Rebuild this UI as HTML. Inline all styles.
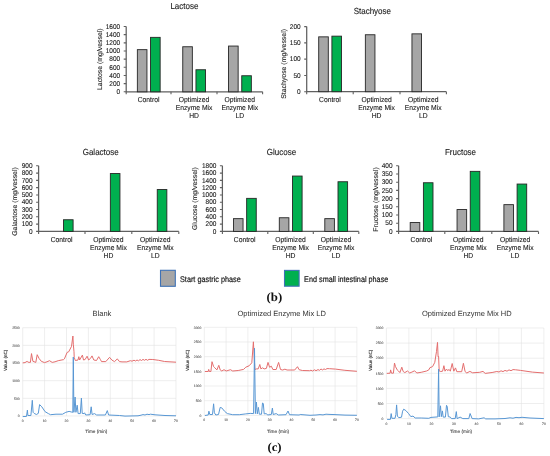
<!DOCTYPE html>
<html><head><meta charset="utf-8"><title>Figure</title>
<style>
html,body{margin:0;padding:0;background:#fff;}
body{width:550px;height:456px;overflow:hidden;}
svg{display:block;text-rendering:geometricPrecision;}
</style></head>
<body>
<svg width="550" height="456" viewBox="0 0 550 456">
<rect width="550" height="456" fill="#fff"/>
<g font-family='"Liberation Sans", Arial, sans-serif' fill="#1a1a1a" stroke="#1a1a1a" stroke-width="0.1">
<path d="M126.2 26.5V91.8H262.6" fill="none" stroke="#606060" stroke-width="1.25"/>
<text transform="translate(120.2 94) scale(1 1.07)" text-anchor="end" font-size="6.5">0</text>
<text transform="translate(120.2 85.84) scale(1 1.07)" text-anchor="end" font-size="6.5">200</text>
<text transform="translate(120.2 77.67) scale(1 1.07)" text-anchor="end" font-size="6.5">400</text>
<text transform="translate(120.2 69.51) scale(1 1.07)" text-anchor="end" font-size="6.5">600</text>
<text transform="translate(120.2 61.35) scale(1 1.07)" text-anchor="end" font-size="6.5">800</text>
<text transform="translate(120.2 53.19) scale(1 1.07)" text-anchor="end" font-size="6.5">1000</text>
<text transform="translate(120.2 45.03) scale(1 1.07)" text-anchor="end" font-size="6.5">1200</text>
<text transform="translate(120.2 36.86) scale(1 1.07)" text-anchor="end" font-size="6.5">1400</text>
<text transform="translate(120.2 28.7) scale(1 1.07)" text-anchor="end" font-size="6.5">1600</text>
<path d="M123.7 91.8H126.2M123.7 83.64H126.2M123.7 75.47H126.2M123.7 67.31H126.2M123.7 59.15H126.2M123.7 50.99H126.2M123.7 42.83H126.2M123.7 34.66H126.2M123.7 26.5H126.2M126.2 91.8V94.3M171 91.8V94.3M217 91.8V94.3M262.6 91.8V94.3" stroke="#606060" stroke-width="1.1"/>
<rect x="137.35" y="49.65" width="9.6" height="42.15" fill="#a6a6a6" stroke="#262626" stroke-width="0.9"/>
<rect x="150.55" y="37.35" width="9.6" height="54.45" fill="#00b04f" stroke="#262626" stroke-width="0.9"/>
<rect x="182.75" y="46.75" width="9.6" height="45.05" fill="#a6a6a6" stroke="#262626" stroke-width="0.9"/>
<rect x="195.95" y="69.75" width="9.6" height="22.05" fill="#00b04f" stroke="#262626" stroke-width="0.9"/>
<rect x="228.55" y="46.05" width="9.6" height="45.75" fill="#a6a6a6" stroke="#262626" stroke-width="0.9"/>
<rect x="241.75" y="75.75" width="9.6" height="16.05" fill="#00b04f" stroke="#262626" stroke-width="0.9"/>
<text transform="translate(148.6 102.4) scale(1 1.07)" text-anchor="middle" font-size="6.75">Control</text>
<text transform="translate(194 102.4) scale(1 1.07)" text-anchor="middle" font-size="6.75">Optimized</text>
<text transform="translate(194 110.15) scale(1 1.07)" text-anchor="middle" font-size="6.75">Enzyme Mix</text>
<text transform="translate(194 117.9) scale(1 1.07)" text-anchor="middle" font-size="6.75">HD</text>
<text transform="translate(239.8 102.4) scale(1 1.07)" text-anchor="middle" font-size="6.75">Optimized</text>
<text transform="translate(239.8 110.15) scale(1 1.07)" text-anchor="middle" font-size="6.75">Enzyme Mix</text>
<text transform="translate(239.8 117.9) scale(1 1.07)" text-anchor="middle" font-size="6.75">LD</text>
<text transform="translate(184.4 9.4) scale(1 1.1)" text-anchor="middle" font-size="8">Lactose</text>
<text transform="translate(101.9 59.2) rotate(-90)" text-anchor="middle" font-size="6.9">Lactose (mg/vessel)</text>
<path d="M306.7 26.6V91.7H446.4" fill="none" stroke="#606060" stroke-width="1.25"/>
<text transform="translate(300.7 93.9) scale(1 1.07)" text-anchor="end" font-size="6.5">0</text>
<text transform="translate(300.7 77.63) scale(1 1.07)" text-anchor="end" font-size="6.5">50</text>
<text transform="translate(300.7 61.35) scale(1 1.07)" text-anchor="end" font-size="6.5">100</text>
<text transform="translate(300.7 45.08) scale(1 1.07)" text-anchor="end" font-size="6.5">150</text>
<text transform="translate(300.7 28.8) scale(1 1.07)" text-anchor="end" font-size="6.5">200</text>
<path d="M304.2 91.7H306.7M304.2 75.43H306.7M304.2 59.15H306.7M304.2 42.88H306.7M304.2 26.6H306.7M306.7 91.7V94.2M353.2 91.7V94.2M400 91.7V94.2M446.4 91.7V94.2" stroke="#606060" stroke-width="1.1"/>
<rect x="318.7" y="36.85" width="9.6" height="54.85" fill="#a6a6a6" stroke="#262626" stroke-width="0.9"/>
<rect x="331.9" y="36.15" width="9.6" height="55.55" fill="#00b04f" stroke="#262626" stroke-width="0.9"/>
<rect x="365.35" y="34.75" width="9.6" height="56.95" fill="#a6a6a6" stroke="#262626" stroke-width="0.9"/>
<rect x="411.95" y="33.85" width="9.6" height="57.85" fill="#a6a6a6" stroke="#262626" stroke-width="0.9"/>
<text transform="translate(329.95 102.3) scale(1 1.07)" text-anchor="middle" font-size="6.75">Control</text>
<text transform="translate(376.6 102.3) scale(1 1.07)" text-anchor="middle" font-size="6.75">Optimized</text>
<text transform="translate(376.6 110.05) scale(1 1.07)" text-anchor="middle" font-size="6.75">Enzyme Mix</text>
<text transform="translate(376.6 117.8) scale(1 1.07)" text-anchor="middle" font-size="6.75">HD</text>
<text transform="translate(423.2 102.3) scale(1 1.07)" text-anchor="middle" font-size="6.75">Optimized</text>
<text transform="translate(423.2 110.05) scale(1 1.07)" text-anchor="middle" font-size="6.75">Enzyme Mix</text>
<text transform="translate(423.2 117.8) scale(1 1.07)" text-anchor="middle" font-size="6.75">LD</text>
<text transform="translate(372.3 13.5) scale(1 1.1)" text-anchor="middle" font-size="8">Stachyose</text>
<text transform="translate(285.6 63.9) rotate(-90)" text-anchor="middle" font-size="6.9">Stachyose (mg/vessel)</text>
<path d="M38.6 165.8V231.4H178.8" fill="none" stroke="#606060" stroke-width="1.25"/>
<text transform="translate(32.6 233.6) scale(1 1.07)" text-anchor="end" font-size="6.5">0</text>
<text transform="translate(32.6 226.31) scale(1 1.07)" text-anchor="end" font-size="6.5">100</text>
<text transform="translate(32.6 219.02) scale(1 1.07)" text-anchor="end" font-size="6.5">200</text>
<text transform="translate(32.6 211.73) scale(1 1.07)" text-anchor="end" font-size="6.5">300</text>
<text transform="translate(32.6 204.44) scale(1 1.07)" text-anchor="end" font-size="6.5">400</text>
<text transform="translate(32.6 197.16) scale(1 1.07)" text-anchor="end" font-size="6.5">500</text>
<text transform="translate(32.6 189.87) scale(1 1.07)" text-anchor="end" font-size="6.5">600</text>
<text transform="translate(32.6 182.58) scale(1 1.07)" text-anchor="end" font-size="6.5">700</text>
<text transform="translate(32.6 175.29) scale(1 1.07)" text-anchor="end" font-size="6.5">800</text>
<text transform="translate(32.6 168) scale(1 1.07)" text-anchor="end" font-size="6.5">900</text>
<path d="M36.1 231.4H38.6M36.1 224.11H38.6M36.1 216.82H38.6M36.1 209.53H38.6M36.1 202.24H38.6M36.1 194.96H38.6M36.1 187.67H38.6M36.1 180.38H38.6M36.1 173.09H38.6M36.1 165.8H38.6M38.6 231.4V233.9M85 231.4V233.9M131.8 231.4V233.9M178.8 231.4V233.9" stroke="#606060" stroke-width="1.1"/>
<rect x="63.5" y="219.75" width="9.6" height="11.65" fill="#00b04f" stroke="#262626" stroke-width="0.9"/>
<rect x="110.35" y="173.55" width="9.6" height="57.85" fill="#00b04f" stroke="#262626" stroke-width="0.9"/>
<rect x="157.25" y="189.55" width="9.6" height="41.85" fill="#00b04f" stroke="#262626" stroke-width="0.9"/>
<text transform="translate(61.55 242) scale(1 1.07)" text-anchor="middle" font-size="6.75">Control</text>
<text transform="translate(108.4 242) scale(1 1.07)" text-anchor="middle" font-size="6.75">Optimized</text>
<text transform="translate(108.4 249.75) scale(1 1.07)" text-anchor="middle" font-size="6.75">Enzyme Mix</text>
<text transform="translate(108.4 257.5) scale(1 1.07)" text-anchor="middle" font-size="6.75">HD</text>
<text transform="translate(155.3 242) scale(1 1.07)" text-anchor="middle" font-size="6.75">Optimized</text>
<text transform="translate(155.3 249.75) scale(1 1.07)" text-anchor="middle" font-size="6.75">Enzyme Mix</text>
<text transform="translate(155.3 257.5) scale(1 1.07)" text-anchor="middle" font-size="6.75">LD</text>
<text transform="translate(100.7 154.7) scale(1 1.1)" text-anchor="middle" font-size="8">Galactose</text>
<text transform="translate(17.2 201.5) rotate(-90)" text-anchor="middle" font-size="6.9">Galactose (mg/vessel)</text>
<path d="M222.4 165.8V231.4H358.8" fill="none" stroke="#606060" stroke-width="1.25"/>
<text transform="translate(216.4 233.6) scale(1 1.07)" text-anchor="end" font-size="6.5">0</text>
<text transform="translate(216.4 226.31) scale(1 1.07)" text-anchor="end" font-size="6.5">200</text>
<text transform="translate(216.4 219.02) scale(1 1.07)" text-anchor="end" font-size="6.5">400</text>
<text transform="translate(216.4 211.73) scale(1 1.07)" text-anchor="end" font-size="6.5">600</text>
<text transform="translate(216.4 204.44) scale(1 1.07)" text-anchor="end" font-size="6.5">800</text>
<text transform="translate(216.4 197.16) scale(1 1.07)" text-anchor="end" font-size="6.5">1000</text>
<text transform="translate(216.4 189.87) scale(1 1.07)" text-anchor="end" font-size="6.5">1200</text>
<text transform="translate(216.4 182.58) scale(1 1.07)" text-anchor="end" font-size="6.5">1400</text>
<text transform="translate(216.4 175.29) scale(1 1.07)" text-anchor="end" font-size="6.5">1600</text>
<text transform="translate(216.4 168) scale(1 1.07)" text-anchor="end" font-size="6.5">1800</text>
<path d="M219.9 231.4H222.4M219.9 224.11H222.4M219.9 216.82H222.4M219.9 209.53H222.4M219.9 202.24H222.4M219.9 194.96H222.4M219.9 187.67H222.4M219.9 180.38H222.4M219.9 173.09H222.4M219.9 165.8H222.4M222.4 231.4V233.9M267.8 231.4V233.9M313.3 231.4V233.9M358.8 231.4V233.9" stroke="#606060" stroke-width="1.1"/>
<rect x="233.45" y="218.65" width="9.6" height="12.75" fill="#a6a6a6" stroke="#262626" stroke-width="0.9"/>
<rect x="246.65" y="198.35" width="9.6" height="33.05" fill="#00b04f" stroke="#262626" stroke-width="0.9"/>
<rect x="279.3" y="217.75" width="9.6" height="13.65" fill="#a6a6a6" stroke="#262626" stroke-width="0.9"/>
<rect x="292.5" y="176.05" width="9.6" height="55.35" fill="#00b04f" stroke="#262626" stroke-width="0.9"/>
<rect x="324.8" y="218.65" width="9.6" height="12.75" fill="#a6a6a6" stroke="#262626" stroke-width="0.9"/>
<rect x="338" y="181.75" width="9.6" height="49.65" fill="#00b04f" stroke="#262626" stroke-width="0.9"/>
<text transform="translate(244.7 242) scale(1 1.07)" text-anchor="middle" font-size="6.75">Control</text>
<text transform="translate(290.55 242) scale(1 1.07)" text-anchor="middle" font-size="6.75">Optimized</text>
<text transform="translate(290.55 249.75) scale(1 1.07)" text-anchor="middle" font-size="6.75">Enzyme Mix</text>
<text transform="translate(290.55 257.5) scale(1 1.07)" text-anchor="middle" font-size="6.75">HD</text>
<text transform="translate(336.05 242) scale(1 1.07)" text-anchor="middle" font-size="6.75">Optimized</text>
<text transform="translate(336.05 249.75) scale(1 1.07)" text-anchor="middle" font-size="6.75">Enzyme Mix</text>
<text transform="translate(336.05 257.5) scale(1 1.07)" text-anchor="middle" font-size="6.75">LD</text>
<text transform="translate(281.5 154.7) scale(1 1.1)" text-anchor="middle" font-size="8">Glucose</text>
<text transform="translate(197.2 198.6) rotate(-90)" text-anchor="middle" font-size="6.9">Glucose (mg/vessel)</text>
<path d="M398.6 165.8V231.4H538.5" fill="none" stroke="#606060" stroke-width="1.25"/>
<text transform="translate(392.6 233.6) scale(1 1.07)" text-anchor="end" font-size="6.5">0</text>
<text transform="translate(392.6 225.4) scale(1 1.07)" text-anchor="end" font-size="6.5">50</text>
<text transform="translate(392.6 217.2) scale(1 1.07)" text-anchor="end" font-size="6.5">100</text>
<text transform="translate(392.6 209) scale(1 1.07)" text-anchor="end" font-size="6.5">150</text>
<text transform="translate(392.6 200.8) scale(1 1.07)" text-anchor="end" font-size="6.5">200</text>
<text transform="translate(392.6 192.6) scale(1 1.07)" text-anchor="end" font-size="6.5">250</text>
<text transform="translate(392.6 184.4) scale(1 1.07)" text-anchor="end" font-size="6.5">300</text>
<text transform="translate(392.6 176.2) scale(1 1.07)" text-anchor="end" font-size="6.5">350</text>
<text transform="translate(392.6 168) scale(1 1.07)" text-anchor="end" font-size="6.5">400</text>
<path d="M396.1 231.4H398.6M396.1 223.2H398.6M396.1 215H398.6M396.1 206.8H398.6M396.1 198.6H398.6M396.1 190.4H398.6M396.1 182.2H398.6M396.1 174H398.6M396.1 165.8H398.6M398.6 231.4V233.9M444.8 231.4V233.9M491.8 231.4V233.9M538.5 231.4V233.9" stroke="#606060" stroke-width="1.1"/>
<rect x="410.2" y="222.55" width="9.6" height="8.85" fill="#a6a6a6" stroke="#262626" stroke-width="0.9"/>
<rect x="423.4" y="182.75" width="9.6" height="48.65" fill="#00b04f" stroke="#262626" stroke-width="0.9"/>
<rect x="457.05" y="209.55" width="9.6" height="21.85" fill="#a6a6a6" stroke="#262626" stroke-width="0.9"/>
<rect x="470.25" y="171.35" width="9.6" height="60.05" fill="#00b04f" stroke="#262626" stroke-width="0.9"/>
<rect x="503.9" y="204.65" width="9.6" height="26.75" fill="#a6a6a6" stroke="#262626" stroke-width="0.9"/>
<rect x="517.1" y="184.05" width="9.6" height="47.35" fill="#00b04f" stroke="#262626" stroke-width="0.9"/>
<text transform="translate(421.45 242) scale(1 1.07)" text-anchor="middle" font-size="6.75">Control</text>
<text transform="translate(468.3 242) scale(1 1.07)" text-anchor="middle" font-size="6.75">Optimized</text>
<text transform="translate(468.3 249.75) scale(1 1.07)" text-anchor="middle" font-size="6.75">Enzyme Mix</text>
<text transform="translate(468.3 257.5) scale(1 1.07)" text-anchor="middle" font-size="6.75">HD</text>
<text transform="translate(515.15 242) scale(1 1.07)" text-anchor="middle" font-size="6.75">Optimized</text>
<text transform="translate(515.15 249.75) scale(1 1.07)" text-anchor="middle" font-size="6.75">Enzyme Mix</text>
<text transform="translate(515.15 257.5) scale(1 1.07)" text-anchor="middle" font-size="6.75">LD</text>
<text transform="translate(460.5 154.7) scale(1 1.1)" text-anchor="middle" font-size="8">Fructose</text>
<text transform="translate(377.7 199.5) rotate(-90)" text-anchor="middle" font-size="6.9">Fructose (mg/vessel)</text>
</g>
<rect x="160.5" y="270.3" width="14.8" height="16" fill="#a6a6a6" stroke="#3f72b6" stroke-width="1.1"/>
<rect x="284.5" y="270.4" width="14.6" height="15.8" fill="#00b04f" stroke="#3f72b6" stroke-width="1.1"/>
<text x="180" y="281.7" font-family='"Liberation Sans", Arial, sans-serif' font-size="8.2" fill="#1a1a1a" stroke="#1a1a1a" stroke-width="0.2" textLength="60.8" lengthAdjust="spacingAndGlyphs">Start gastric phase</text>
<text x="304.1" y="281.7" font-family='"Liberation Sans", Arial, sans-serif' font-size="8.2" fill="#1a1a1a" stroke="#1a1a1a" stroke-width="0.2" textLength="84.2" lengthAdjust="spacingAndGlyphs">End small intestinal phase</text>
<text transform="translate(274.4 301.4) scale(1.06 1)" text-anchor="middle" font-family='"Liberation Serif", "Times New Roman", serif' font-weight="bold" font-size="12.1" fill="#111">(b)</text>
<text transform="translate(274.5 450.5) scale(1.06 1)" text-anchor="middle" font-family='"Liberation Serif", "Times New Roman", serif' font-weight="bold" font-size="12.1" fill="#111">(c)</text>
<path d="M22.7 327.7V416M44.6 327.7V416M66.5 327.7V416M88.4 327.7V416M110.3 327.7V416M132.2 327.7V416M154.1 327.7V416M176 327.7V416M22.7 416H176M22.7 398.34H176M22.7 380.68H176M22.7 363.02H176M22.7 345.36H176M22.7 327.7H176" stroke="#e3e3e3" stroke-width="0.6" fill="none"/>
<g font-family='"Liberation Sans", Arial, sans-serif' font-size="3.4" fill="#6a6a6a" stroke="#6a6a6a" stroke-width="0.12">
<text x="19.7" y="417.2" text-anchor="end">0</text>
<text x="19.7" y="399.54" text-anchor="end">500</text>
<text x="19.7" y="381.88" text-anchor="end">1000</text>
<text x="19.7" y="364.22" text-anchor="end">1500</text>
<text x="19.7" y="346.56" text-anchor="end">2000</text>
<text x="19.7" y="328.9" text-anchor="end">2500</text>
<text x="22.7" y="422" text-anchor="middle">0</text>
<text x="44.6" y="422" text-anchor="middle">10</text>
<text x="66.5" y="422" text-anchor="middle">20</text>
<text x="88.4" y="422" text-anchor="middle">30</text>
<text x="110.3" y="422" text-anchor="middle">40</text>
<text x="132.2" y="422" text-anchor="middle">50</text>
<text x="154.1" y="422" text-anchor="middle">60</text>
<text x="176" y="422" text-anchor="middle">70</text>
</g>
<text x="96.3" y="433" text-anchor="middle" font-family='"Liberation Sans", Arial, sans-serif' font-size="4.7" fill="#444" stroke="#444" stroke-width="0.08">Time (min)</text>
<text transform="translate(7.2 360.3) rotate(-90)" text-anchor="middle" font-family='"Liberation Sans", Arial, sans-serif' font-size="4.5" fill="#333" stroke="#333" stroke-width="0.14">Value (nC)</text>
<text x="102" y="316" text-anchor="middle" font-family='"Liberation Sans", Arial, sans-serif' font-size="7.5" fill="#333">Blank</text>
<polyline points="22.7,362.9 25,362.6 27.1,361.3 28,362.2 30.4,362.4 31.5,353.6 32.9,361.3 35.8,362.4 37.2,354.7 39.1,358.5 41.3,361.3 44.5,362.6 47,361.8 49.5,360.7 52.2,362.4 55,361.8 58.2,360.7 63.6,359.6 64.4,358.9 67.1,352.4 68.7,351.8 71.5,346.4 72.9,336 73.3,344.2 74,351.8 74.2,357.3 75.3,360.5 78,360 78.8,356.7 79.6,360 82.4,355.1 83.5,360 85.1,359.5 87.1,356.2 88.6,360 90.5,358.4 92,355.9 93.8,360 96.5,360.5 98.7,356.7 100.4,359.5 101.5,361.6 105.8,361.6 109.6,357.3 111.8,360 114.5,361.6 117.3,358.9 119.5,361.6 122,361.9 126.8,361.9 130.4,360.7 132,361.2 134,360.2 135.5,361 137,360 138.5,360.8 140,359.6 141.5,360.5 143,359.4 144.5,360.3 146,359.3 147.5,360.3 149,359.4 152.8,359.5 158.7,360.3 164.6,361.5 176,362.2" fill="none" stroke="#e46e6e" stroke-width="1" stroke-linejoin="round"/>
<polyline points="22.7,416.6 26.5,416.4 27.4,410.1 27.9,415.5 30.9,415.5 32.3,400.3 33.1,412.3 34.2,413.4 36.4,414.5 38.3,413.4 39.6,404.6 41.8,406.8 45.1,411.7 48.4,413.6 50.5,414.7 56,414.2 62.5,414.2 65.8,412.3 69.1,411.4 71.8,412.1 72.8,412.3 73.3,357 73.9,412.3 75.1,397 75.9,412.3 77.2,405.2 78.1,413.6 80.3,413.6 81.4,398.1 82.2,413.4 84.1,413.6 84.6,412.8 85.7,415 90.1,414.7 91.2,406.8 92.1,414.5 94.5,413.6 96.6,415 105.4,415 107.3,410.6 108.6,415 119.5,415.5 125,416.1 138,415.8 141,415.2 143,414.6 145,415 147,414.2 149,414.6 150.5,414.2 155,414.8 165,415.5 176,415.8" fill="none" stroke="#5897d4" stroke-width="1" stroke-linejoin="round"/>
<path d="M204.3 327.3V415.4M226.1 327.3V415.4M247.9 327.3V415.4M269.7 327.3V415.4M291.5 327.3V415.4M313.3 327.3V415.4M335.1 327.3V415.4M356.9 327.3V415.4M204.3 415.4H356.9M204.3 400.72H356.9M204.3 386.03H356.9M204.3 371.35H356.9M204.3 356.67H356.9M204.3 341.98H356.9M204.3 327.3H356.9" stroke="#e3e3e3" stroke-width="0.6" fill="none"/>
<g font-family='"Liberation Sans", Arial, sans-serif' font-size="3.4" fill="#6a6a6a" stroke="#6a6a6a" stroke-width="0.12">
<text x="201.3" y="416.6" text-anchor="end">0</text>
<text x="201.3" y="401.92" text-anchor="end">500</text>
<text x="201.3" y="387.23" text-anchor="end">1000</text>
<text x="201.3" y="372.55" text-anchor="end">1500</text>
<text x="201.3" y="357.87" text-anchor="end">2000</text>
<text x="201.3" y="343.18" text-anchor="end">2500</text>
<text x="201.3" y="328.5" text-anchor="end">3000</text>
<text x="204.3" y="421.4" text-anchor="middle">0</text>
<text x="226.1" y="421.4" text-anchor="middle">10</text>
<text x="247.9" y="421.4" text-anchor="middle">20</text>
<text x="269.7" y="421.4" text-anchor="middle">30</text>
<text x="291.5" y="421.4" text-anchor="middle">40</text>
<text x="313.3" y="421.4" text-anchor="middle">50</text>
<text x="335.1" y="421.4" text-anchor="middle">60</text>
<text x="356.9" y="421.4" text-anchor="middle">70</text>
</g>
<text x="278" y="433" text-anchor="middle" font-family='"Liberation Sans", Arial, sans-serif' font-size="4.7" fill="#444" stroke="#444" stroke-width="0.08">Time (min)</text>
<text transform="translate(189.4 360.3) rotate(-90)" text-anchor="middle" font-family='"Liberation Sans", Arial, sans-serif' font-size="4.5" fill="#333" stroke="#333" stroke-width="0.14">Value (nC)</text>
<text x="281.7" y="316" text-anchor="middle" font-family='"Liberation Sans", Arial, sans-serif' font-size="7.5" fill="#333">Optimized Enzyme Mix LD</text>
<polyline points="204.9,371.5 208.2,371.5 208.7,369.4 209.3,371.5 210.9,371.5 212,361.7 213.6,366.6 214.7,367.7 216.9,369.9 218.8,365.3 220.2,369.9 221.8,371 224,369.7 226.2,371 230.5,369.7 232.7,371 238.2,370.5 243.6,369.4 245.8,367.2 249.1,365.8 251.8,362.8 253.4,341.8 254.2,356.8 254.9,369.5 256.5,368.9 258.2,368.9 259.8,364.5 260.9,368.9 262.5,367.8 264.2,368.9 266.4,368.4 268,362.4 269.6,367.3 271.3,366.2 272.9,369.5 276.2,369.5 278.6,362.4 280.5,369.5 282.7,370 284.9,369.2 287.1,370 294.7,370 297.5,366.7 299.1,369.7 302.4,370.5 309.5,370.7 311,370.2 312.5,371 314.5,369.8 316,370.7 318,369.6 319.5,370.3 321,369 322.5,369.9 324,368.9 325.5,369.5 327,368.6 329.6,368.7 335.5,369.1 344.9,370.3 356.9,371.3" fill="none" stroke="#e46e6e" stroke-width="1" stroke-linejoin="round"/>
<polyline points="204.9,415.5 208.2,415 208.9,411.2 209.8,414.5 212.5,414.5 213.6,403.8 214.4,412.8 215.8,415 218.5,414.5 220.2,407.4 221.8,407.9 224.5,411.2 227.3,413.6 232.7,414.7 239.3,414.7 245.8,413.9 250.2,413.4 253.6,413.6 254.5,348.2 255.4,413.6 256.4,402 257.3,413.9 258.4,407.4 259.3,414.2 261.5,414.2 262.5,403 263.3,403.5 264.2,413.9 266.4,413.6 267.5,415 271.3,414.5 272.4,408.1 273.2,414.5 276.2,413.6 278.4,415 286,414.7 288,411 289.5,414.7 299.1,415 300.2,414.5 310,415.3 316,415 320,414.6 323,414.9 326,414.2 329,414.4 335,414.6 345,415.1 356.9,415.3" fill="none" stroke="#5897d4" stroke-width="1" stroke-linejoin="round"/>
<path d="M386.4 328V418.6M408.9 328V418.6M431.4 328V418.6M453.9 328V418.6M476.4 328V418.6M498.9 328V418.6M521.4 328V418.6M543.9 328V418.6M386.4 418.6H543.9M386.4 403.5H543.9M386.4 388.4H543.9M386.4 373.3H543.9M386.4 358.2H543.9M386.4 343.1H543.9M386.4 328H543.9" stroke="#e3e3e3" stroke-width="0.6" fill="none"/>
<g font-family='"Liberation Sans", Arial, sans-serif' font-size="3.4" fill="#6a6a6a" stroke="#6a6a6a" stroke-width="0.12">
<text x="383.4" y="419.8" text-anchor="end">0</text>
<text x="383.4" y="404.7" text-anchor="end">500</text>
<text x="383.4" y="389.6" text-anchor="end">1000</text>
<text x="383.4" y="374.5" text-anchor="end">1500</text>
<text x="383.4" y="359.4" text-anchor="end">2000</text>
<text x="383.4" y="344.3" text-anchor="end">2500</text>
<text x="383.4" y="329.2" text-anchor="end">3000</text>
<text x="386.4" y="424.6" text-anchor="middle">0</text>
<text x="408.9" y="424.6" text-anchor="middle">10</text>
<text x="431.4" y="424.6" text-anchor="middle">20</text>
<text x="453.9" y="424.6" text-anchor="middle">30</text>
<text x="476.4" y="424.6" text-anchor="middle">40</text>
<text x="498.9" y="424.6" text-anchor="middle">50</text>
<text x="521.4" y="424.6" text-anchor="middle">60</text>
<text x="543.9" y="424.6" text-anchor="middle">70</text>
</g>
<text x="461" y="433" text-anchor="middle" font-family='"Liberation Sans", Arial, sans-serif' font-size="4.7" fill="#444" stroke="#444" stroke-width="0.08">Time (min)</text>
<text transform="translate(372.3 360.3) rotate(-90)" text-anchor="middle" font-family='"Liberation Sans", Arial, sans-serif' font-size="4.5" fill="#333" stroke="#333" stroke-width="0.14">Value (nC)</text>
<text x="466.8" y="316" text-anchor="middle" font-family='"Liberation Sans", Arial, sans-serif' font-size="7.5" fill="#333">Optimized Enzyme Mix HD</text>
<polyline points="386.8,373.4 390.1,373.2 390.6,369.9 391.5,373.2 393.4,373.2 394.5,363.1 395.5,366.6 397.2,369.9 398.5,371 399.9,372.6 401.8,367.2 403.2,371.5 404.8,372.6 407.5,371 409.7,373 411.9,372.1 414.6,370.8 416.8,373 421.2,372.3 426.6,371 428.8,369.9 429.9,367.7 432.6,366.6 434.8,362.3 436.5,351.4 437.5,342.4 438.1,356.8 438.6,356.3 439.2,371 440.8,371.5 442.6,371.2 443.9,365.7 445,371.2 446.5,369 447.5,370.6 449.2,369.5 450.3,371.2 452.2,363.5 453.8,371.2 455.5,367.9 456.8,371.7 461.7,371.7 463.4,363.3 465,371.2 466.6,373.1 469.9,371.4 472.6,372.8 479.7,372.3 483,371.4 485.2,373.4 492.1,372.5 496.8,371.5 499,372 501,370.8 503,371.6 505,370.4 507,371.2 509,369.9 511,370.7 513,369.6 515.7,369.8 520.5,370.4 532.3,372.1 543.9,373" fill="none" stroke="#e46e6e" stroke-width="1" stroke-linejoin="round"/>
<polyline points="387.1,419.4 390.4,419.4 391.2,413.6 391.9,418.3 395,418.3 395.9,414.5 396.6,404.9 397.4,416.1 398.8,417.7 401.5,417.2 402.6,411.2 403.7,409.2 405.9,410.6 408.6,413.6 410.8,416.6 413,416.1 415.2,418 421.2,418 428.8,418.3 431,417.4 437.8,416.9 438.6,369 439.2,416.9 440.5,405.8 441.3,416.7 442.4,410.9 443.2,417.1 445.4,417.1 446.5,405.3 447.2,406.4 448.3,416.7 450.3,417.1 451.4,418.6 455.2,418.6 456.3,411.6 457.1,418.6 460.1,417.1 462.8,418.6 468.8,418.6 470.1,413.5 472.1,418.6 478.6,418.9 484.1,417.8 485.7,418.9 495,418.9 505,418.5 510,417.8 513,418.2 516,417.4 519,417.7 522,417.3 530,418 543.9,418.6" fill="none" stroke="#5897d4" stroke-width="1" stroke-linejoin="round"/>
</svg>
</body></html>
